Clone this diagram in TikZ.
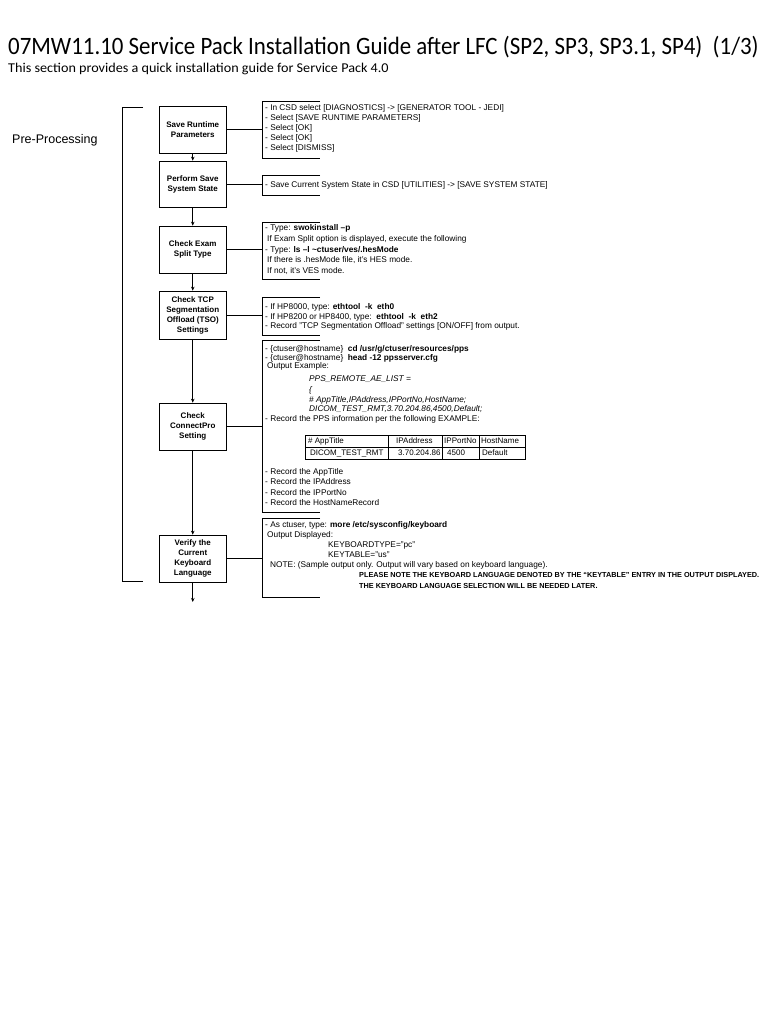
\documentclass[tikz,border=0pt]{standalone}
\usepackage{fontspec}
\setmainfont{Liberation Sans}
\newfontfamily\titlefont[FakeStretch=0.915]{Carlito}
\newfontfamily\subfont[FakeStretch=1.05]{Carlito}
\usetikzlibrary{arrows.meta,calc}
\newcommand{\nl}[4][265]{\node[notetxt] (#2) at (#1,#3) {#4};}
\begin{document}
\begin{tikzpicture}[x=1pt,y=-1pt,
  stepbox/.style={draw, line width=0.7pt, minimum width=66.5pt, inner sep=0pt, align=center,
    font=\fontsize{8}{10}\selectfont\bfseries},
  notetxt/.style={anchor=base west, inner sep=0pt, font=\fontsize{8.3}{10}\selectfont},
  captxt/.style={anchor=base west, inner sep=0pt, font=\fontsize{7.3}{10}\selectfont\bfseries},
  celltxt/.style={anchor=base west, inner sep=0pt, font=\fontsize{8}{10}\selectfont},
  flow/.style={-{Stealth[length=4pt,width=3.5pt]}, line width=0.7pt},
  link/.style={line width=0.7pt}]
\useasboundingbox (0,0) rectangle (768,1024);

% titles
\node[anchor=base west, inner sep=0pt, font=\titlefont\fontsize{25}{30}\selectfont] (title) at (8,55)
  {07MW11.10 Service Pack Installation Guide after LFC (SP2, SP3, SP3.1, SP4)\ \ (1/3)};
\node[anchor=base west, inner sep=0pt, font=\subfont\fontsize{13.5}{15}\selectfont] (sub) at (8,73)
  {This section provides a quick installation guide for Service Pack 4.0};
\node[anchor=base west, inner sep=0pt, font=\fontsize{12.5}{15}\selectfont] (phase) at (12,144) {Pre-Processing};

% phase bracket
\coordinate (pt) at (122,107);
\coordinate (pb) at (122,581);
\draw[link] ($(pt)+(21,0)$) -- (pt) -- (pb) -- ($(pb)+(21,0)$);

% step boxes
\node[stepbox, minimum height=47pt] (b1) at (192.75,129.5) {Save Runtime\\Parameters};
\node[stepbox, minimum height=46pt] (b2) at (192.75,184) {Perform Save\\System State};
\node[stepbox, minimum height=47pt] (b3) at (192.75,249.5) {Check Exam\\Split Type};
\node[stepbox, minimum height=48pt] (b4) at (192.75,315) {Check TCP\\Segmentation\\Offload (TSO)\\Settings};
\node[stepbox, minimum height=47pt] (b5) at (192.75,426.5) {Check\\ConnectPro\\Setting};
\node[stepbox, minimum height=47pt] (b6) at (192.75,558.5) {Verify the\\Current\\Keyboard\\Language};
\coordinate (end) at (192.75,602);

\draw[flow] (b1) -- (b2);
\draw[flow] (b2) -- (b3);
\draw[flow] (b3) -- (b4);
\draw[flow] (b4) -- (b5);
\draw[flow] (b5) -- (b6);
\draw[flow] (b6) -- (end);

% note brackets
\foreach \n/\t/\b in {n1/101/158, n2/175/195, n3/222/279, n4/297/335, n5/340/512, n6/518/597}{
  \coordinate (\n t) at (262,\t);
  \coordinate (\n b) at (262,\b);
  \draw[link] ($(\n t)+(58,0)$) -- (\n t) -- (\n b) -- ($(\n b)+(58,0)$);
}
\draw[link] (b1.east) -- (b1.east -| n1t);
\draw[link] (b2.east) -- (b2.east -| n2t);
\draw[link] (b3.east) -- (b3.east -| n3t);
\draw[link] (b4.east) -- (b4.east -| n4t);
\draw[link] (b5.east) -- (b5.east -| n5t);
\draw[link] (b6.east) -- (b6.east -| n6t);

% note 1
\nl{t1a}{110.5}{- In CSD select [DIAGNOSTICS] -> [GENERATOR TOOL - JEDI]}
\nl{t1b}{120.5}{- Select [SAVE RUNTIME PARAMETERS]}
\nl{t1c}{130.5}{- Select [OK]}
\nl{t1d}{140.5}{- Select [OK]}
\nl{t1e}{150.5}{- Select [DISMISS]}
% note 2
\nl{t2a}{188}{- Save Current System State in CSD [UTILITIES] -> [SAVE SYSTEM STATE]}
% note 3
\nl{t3a}{231}{- Type: \textbf{swokinstall –p}}
\nl[267]{t3b}{241.5}{If Exam Split option is displayed, execute the following}
\nl{t3c}{252}{- Type: \textbf{ls –l \textasciitilde ctuser/ves/.hesMode}}
\nl[267]{t3d}{262.5}{If there is .hesMode file, it's HES mode.}
\nl[267]{t3e}{273}{If not, it's VES mode.}
% note 4
\nl{t4a}{309.5}{- If HP8000, type: \textbf{ethtool\ \ -k\ \ eth0}}
\nl{t4b}{319}{- If HP8200 or HP8400, type:\ \ \textbf{ethtool\ \ -k\ \ eth2}}
\nl{t4c}{328.5}{- Record "TCP Segmentation Offload" settings [ON/OFF] from output.}
% note 5
\nl{t5a}{351.5}{- \{ctuser@hostname\}\ \ \textbf{cd /usr/g/ctuser/resources/pps}}
\nl{t5b}{360}{- \{ctuser@hostname\}\ \ \textbf{head -12 ppsserver.cfg}}
\nl[267]{t5c}{368.5}{Output Example:}
\nl[309]{t5d}{381.5}{\itshape PPS\_REMOTE\_AE\_LIST =}
\nl[309]{t5e}{392}{\itshape \{}
\nl[309]{t5f}{402}{\itshape \# AppTitle,IPAddress,IPPortNo,HostName;}
\nl[309]{t5g}{411.5}{\itshape DICOM\_TEST\_RMT,3.70.204.86,4500,Default;}
\nl{t5h}{421}{- Record the PPS information per the following EXAMPLE:}
% table
\draw[link] (305,435) rectangle (525,459);
\draw[link] (305,447) -- (525,447);
\foreach \cx in {388,442,479} \draw[link] (\cx,435) -- (\cx,459);
\node[celltxt] (h1) at (308,443.5) {\# AppTitle};
\node[celltxt] (h2) at (396,443.5) {IPAddress};
\node[celltxt] (h3) at (444,443.5) {IPPortNo};
\node[celltxt] (h4) at (481,443.5) {HostName};
\node[celltxt] (d1) at (310,455) {DICOM\_TEST\_RMT};
\node[celltxt] (d2) at (398,455) {3.70.204.86};
\node[celltxt] (d3) at (447,455) {4500};
\node[celltxt] (d4) at (482,455) {Default};
\nl{t5i}{474.5}{- Record the AppTitle}
\nl{t5j}{484.5}{- Record the IPAddress}
\nl{t5k}{495}{- Record the IPPortNo}
\nl{t5l}{505.5}{- Record the HostNameRecord}
% note 6
\nl{t6a}{527.5}{- As ctuser, type: \textbf{more /etc/sysconfig/keyboard}}
\nl[267]{t6b}{537.5}{Output Displayed:}
\nl[328]{t6c}{547.5}{KEYBOARDTYPE="pc"}
\nl[328]{t6d}{557.5}{KEYTABLE="us"}
\nl[270]{t6e}{567.5}{NOTE: (Sample output only. Output will vary based on keyboard language).}
\node[captxt] (t6f) at (359,577.5) {PLEASE NOTE THE KEYBOARD LANGUAGE DENOTED BY THE “KEYTABLE” ENTRY IN THE OUTPUT DISPLAYED.};
\node[captxt] (t6g) at (359,588) {THE KEYBOARD LANGUAGE SELECTION WILL BE NEEDED LATER.};
\end{tikzpicture}
\end{document}
